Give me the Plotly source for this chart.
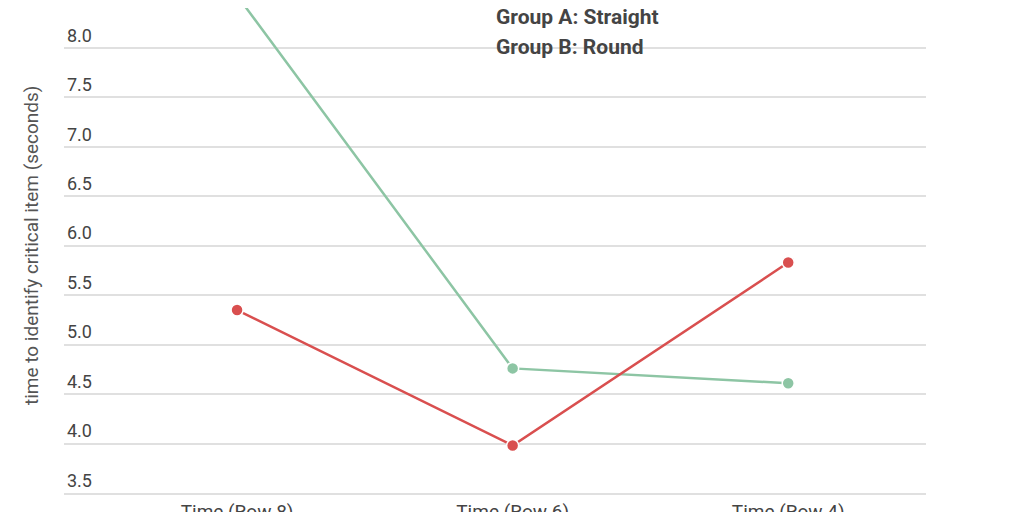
import plotly.graph_objects as go

categories = ["Time (Row 8)", "Time (Row 6)", "Time (Row 4)"]
group_a = [8.53, 4.76, 4.61]   # Straight (green)
group_b = [5.35, 3.98, 5.83]   # Round (red)
legend_labels = ["Group A: Straight", "Group B: Round"]

GREEN = "#8dc5a4"
RED = "#d94f4f"

# page is rendered with an 8px body margin; layout numbers compensate
L, R, T, B = 56, 106, 0, 27
PW = 1024 - L - R
PH = 512 - T - B

fig = go.Figure()
fig.add_trace(go.Scatter(
    x=[0, 1, 2], y=group_a, mode="lines+markers", name=legend_labels[0],
    line=dict(color=GREEN, width=2.5),
    marker=dict(size=12, color=GREEN, line=dict(color="white", width=1.5)),
    cliponaxis=False,
))
fig.add_trace(go.Scatter(
    x=[0, 1, 2], y=group_b, mode="lines+markers", name=legend_labels[1],
    line=dict(color=RED, width=2.5),
    marker=dict(size=12, color=RED, line=dict(color="white", width=1.5)),
    cliponaxis=False,
))

for i, txt in enumerate(legend_labels):
    fig.add_annotation(
        text="<b>%s</b>" % txt, xref="paper", yref="paper",
        x=(486 - L) / PW, y=1 - (9 + 30 * i) / PH,
        xanchor="left", yanchor="middle", showarrow=False,
        font=dict(family="Roboto", size=21, color="#444444"),
    )

fig.add_annotation(
    text="time to identify critical item (seconds)", xref="paper", yref="paper",
    x=(23 - L) / PW, y=1 - 238 / PH, xanchor="center", yanchor="middle",
    textangle=-90, showarrow=False,
    font=dict(family="Roboto", size=19, color="#555555"),
)

fig.update_layout(
    width=1024, height=512,
    margin=dict(l=L, r=R, t=T, b=B, autoexpand=False),
    paper_bgcolor="white", plot_bgcolor="white",
    showlegend=False,
    font=dict(family="Roboto", color="#444444"),
    xaxis=dict(
        tickmode="array", tickvals=[0, 1, 2], ticktext=categories,
        range=[-0.628, 2.5], showgrid=False, zeroline=False,
        showline=True, linecolor="#e0e0e0", linewidth=2,
        tickfont=dict(family="Roboto", size=19, color="#444444"),
        ticks="", ticklabelstandoff=0, automargin=False,
    ),
    yaxis=dict(
        range=[3.5, 8.404], dtick=0.5, tick0=3.5, tickformat=".1f",
        showgrid=True, gridcolor="#e0e0e0", gridwidth=1.5,
        zeroline=False, showline=False, ticks="",
        ticklabelposition="inside top", automargin=False,
        tickfont=dict(family="Roboto", size=18, color="#444444"),
    ),
)

fig.write_html("out.html")
